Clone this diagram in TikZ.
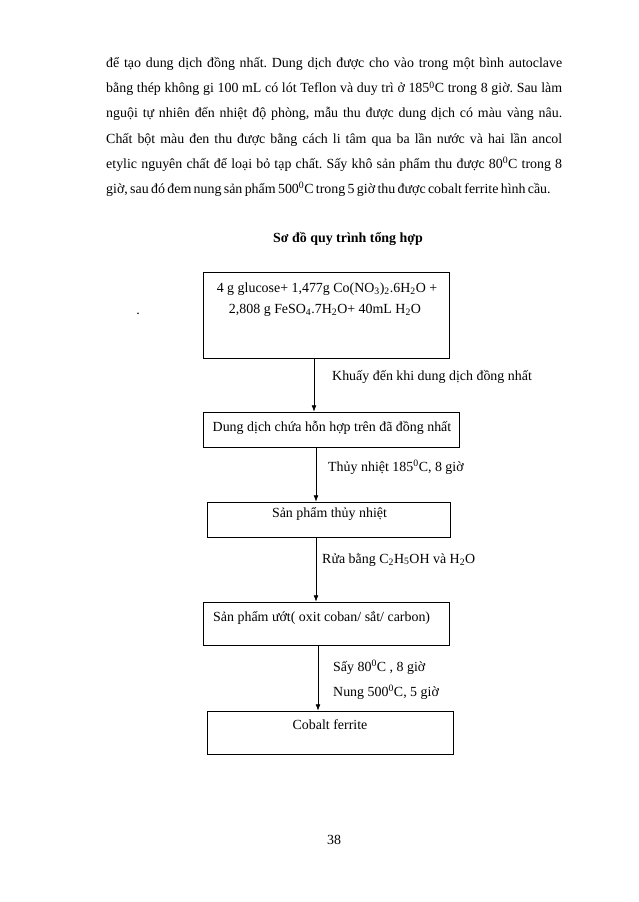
\documentclass[tikz,border=0pt]{standalone}
\usepackage{fontspec}
\setmainfont{Liberation Serif}
\usepackage{tikz}
\usetikzlibrary{arrows.meta}
\newlength{\px}
\setlength{\px}{0.93304pt}
\frenchspacing

\begin{document}
\begin{tikzpicture}[x=\px, y=-\px,
        every node/.style={inner sep=0pt, font=\fontsize{13pt}{15pt}\selectfont},
        box/.style={draw, line width=0.6pt, rectangle},
        flow/.style={-{Latex[length=6pt,width=4.5pt]}, line width=0.6pt}]
    \useasboundingbox (0,0) rectangle (638,902);
    % text above the scheme
    \node[anchor=base west] (par1) at (106, 68) {\makebox[456\px][s]{để tạo dung dịch đồng nhất. Dung dịch được cho vào trong một bình autoclave}};
    \node[anchor=base west] (par2) at (106, 93) {\makebox[456\px][s]{bằng thép không gi 100 mL có lót Teflon và duy trì ở 185\textsuperscript{0}C trong 8 giờ. Sau làm}};
    \node[anchor=base west] (par3) at (106,118) {\makebox[456\px][s]{nguội tự nhiên đến nhiệt độ phòng, mẫu thu được dung dịch có màu vàng nâu.}};
    \node[anchor=base west] (par4) at (106,143) {\makebox[456\px][s]{Chất bột màu đen thu được bằng cách li tâm qua ba lần nước và hai lần ancol}};
    \node[anchor=base west] (par5) at (106,168) {\makebox[456\px][s]{etylic nguyên chất để loại bỏ tạp chất. Sấy khô sản phẩm thu được 80\textsuperscript{0}C trong 8}};
    \node[anchor=base west] (par6) at (106,193) {\makebox[441\px][s]{giờ, sau đó đem nung sản phẩm 500\textsuperscript{0}C trong 5 giờ thu được cobalt ferrite hình cầu.}};
    \node[anchor=base, font=\fontsize{13pt}{15pt}\selectfont\bfseries] (title) at (348,242) {Sơ đồ quy trình tổng hợp};
    \node[anchor=base] (dot) at (138,314) {.};

    % boxes
    \node[box, minimum width=246\px, minimum height=86\px] (mix)     at (326.0,315.0) {};
    \node[box, minimum width=256\px, minimum height=35\px] (homog)   at (331.0,429.5) {};
    \node[box, minimum width=243\px, minimum height=35\px] (hydro)   at (328.5,519.5) {};
    \node[box, minimum width=246\px, minimum height=43\px] (wet)     at (326.0,623.5) {};
    \node[box, minimum width=246\px, minimum height=43\px] (ferrite) at (330.0,732.5) {};

    \node[anchor=base]      (mixA)   at (327,292.5) {4 g glucose+ 1,477g Co(NO\textsubscript{3})\textsubscript{2}.6H\textsubscript{2}O +};
    \node[anchor=base]      (mixB)   at (325,313.5) {2,808 g FeSO\textsubscript{4}.7H\textsubscript{2}O+ 40mL H\textsubscript{2}O};
    \node[anchor=base]      (homogT) at (332,431)   {Dung dịch chứa hỗn hợp trên đã đồng nhất};
    \node[anchor=base]      (hydroT) at (329.5,517) {Sản phẩm thủy nhiệt};
    \node[anchor=base west] (wetT)   at (213,621)   {Sản phẩm ướt( oxit coban/ sắt/ carbon)};
    \node[anchor=base]      (ferT)   at (330,729)   {Cobalt ferrite};

    % arrows
    \coordinate (ax1) at (314,0);
    \coordinate (ax2) at (316,0);
    \coordinate (ax3) at (316,0);
    \coordinate (ax4) at (318,0);
    \draw[flow] (mix.south -| ax1)   -- (homog.north -| ax1);
    \draw[flow] (homog.south -| ax2) -- (hydro.north -| ax2);
    \draw[flow] (hydro.south -| ax3) -- (wet.north -| ax3);
    \draw[flow] (wet.south -| ax4)   -- (ferrite.north -| ax4);

    \node[anchor=base west] (stir)  at (332,380) {Khuấy đến khi dung dịch đồng nhất};
    \node[anchor=base west] (heat)  at (328,471) {Thủy nhiệt 185\textsuperscript{0}C, 8 giờ};
    \node[anchor=base west] (wash)  at (322,563) {Rửa bằng C\textsubscript{2}H\textsubscript{5}OH và H\textsubscript{2}O};
    \node[anchor=base west] (dry)   at (333,671) {Sấy 80\textsuperscript{0}C , 8 giờ};
    \node[anchor=base west] (calc)  at (333,696) {Nung 500\textsuperscript{0}C, 5 giờ};

    \node[anchor=base] (page) at (334,844) {38};
\end{tikzpicture}
\end{document}
